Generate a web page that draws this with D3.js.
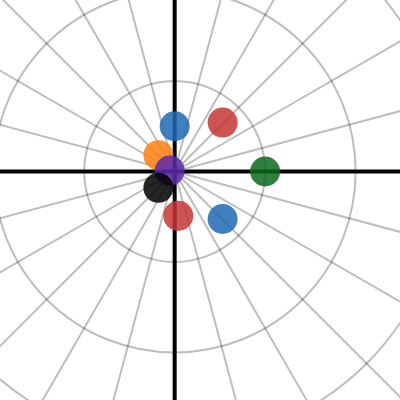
<!DOCTYPE html>
<html lang="en">
<head>
    <meta charset="UTF-8">
    <title>Complex Plane Points</title>
    <script src="https://d3js.org/d3.v7.min.js"></script>
    <style>
        body { margin: 0; background: #fff; }
        .ring, .spoke { fill: none; stroke: #000; stroke-opacity: 0.26; stroke-width: 2px; }
        .axis-line { stroke: #000; stroke-width: 4px; }
        .dot { opacity: 0.85; }
    </style>
</head>
<body>
    <svg id="svg" width="400" height="400"></svg>

    <script>
        // Point data (real / imaginary parts) and colours
        const re     = [0.00, 0.53, 1.00, 0.53, 0.04, -0.18, -0.055, -0.18];
        const im     = [0.50, 0.54, 0.00, -0.525, -0.49, 0.18, 0.01, -0.18];
        const colors = ["#1e6ab4", "#c63535", "#0b6a1c", "#1e6ab4", "#c63535", "#ff7f0e", "#5a2ba8", "#000000"];

        // Polar grid
        const ringRadii = [1, 2, 3];
        const spokeAngles = d3.range(0, 360, 15);

        const width = 400, height = 400;
        const svg = d3.select("#svg");

        const x = d3.scaleLinear().domain([-1.93, 2.49]).range([0, width]);
        const y = d3.scaleLinear().domain([-2.525, 1.895]).range([height, 0]);
        const unit = x(1) - x(0);

        // rings
        svg.append("g").selectAll(".ring")
            .data(ringRadii)
            .enter().append("circle")
            .attr("class", "ring")
            .attr("cx", x(0))
            .attr("cy", y(0))
            .attr("r", d => d * unit);

        // spokes
        svg.append("g").selectAll(".spoke")
            .data(spokeAngles)
            .enter().append("line")
            .attr("class", "spoke")
            .attr("x1", x(0))
            .attr("y1", y(0))
            .attr("x2", d => x(5 * Math.cos(d * Math.PI / 180)))
            .attr("y2", d => y(5 * Math.sin(d * Math.PI / 180)));

        // real and imaginary axes
        svg.append("line").attr("class", "axis-line")
            .attr("x1", 0).attr("x2", width)
            .attr("y1", y(0)).attr("y2", y(0));
        svg.append("line").attr("class", "axis-line")
            .attr("x1", x(0)).attr("x2", x(0))
            .attr("y1", 0).attr("y2", height);

        // dots
        svg.append("g").selectAll(".dot")
            .data(d3.range(re.length))
            .enter().append("circle")
            .attr("class", "dot")
            .attr("cx", i => x(re[i]))
            .attr("cy", i => y(im[i]))
            .attr("r", 15)
            .attr("fill", i => colors[i]);
    </script>
</body>
</html>
